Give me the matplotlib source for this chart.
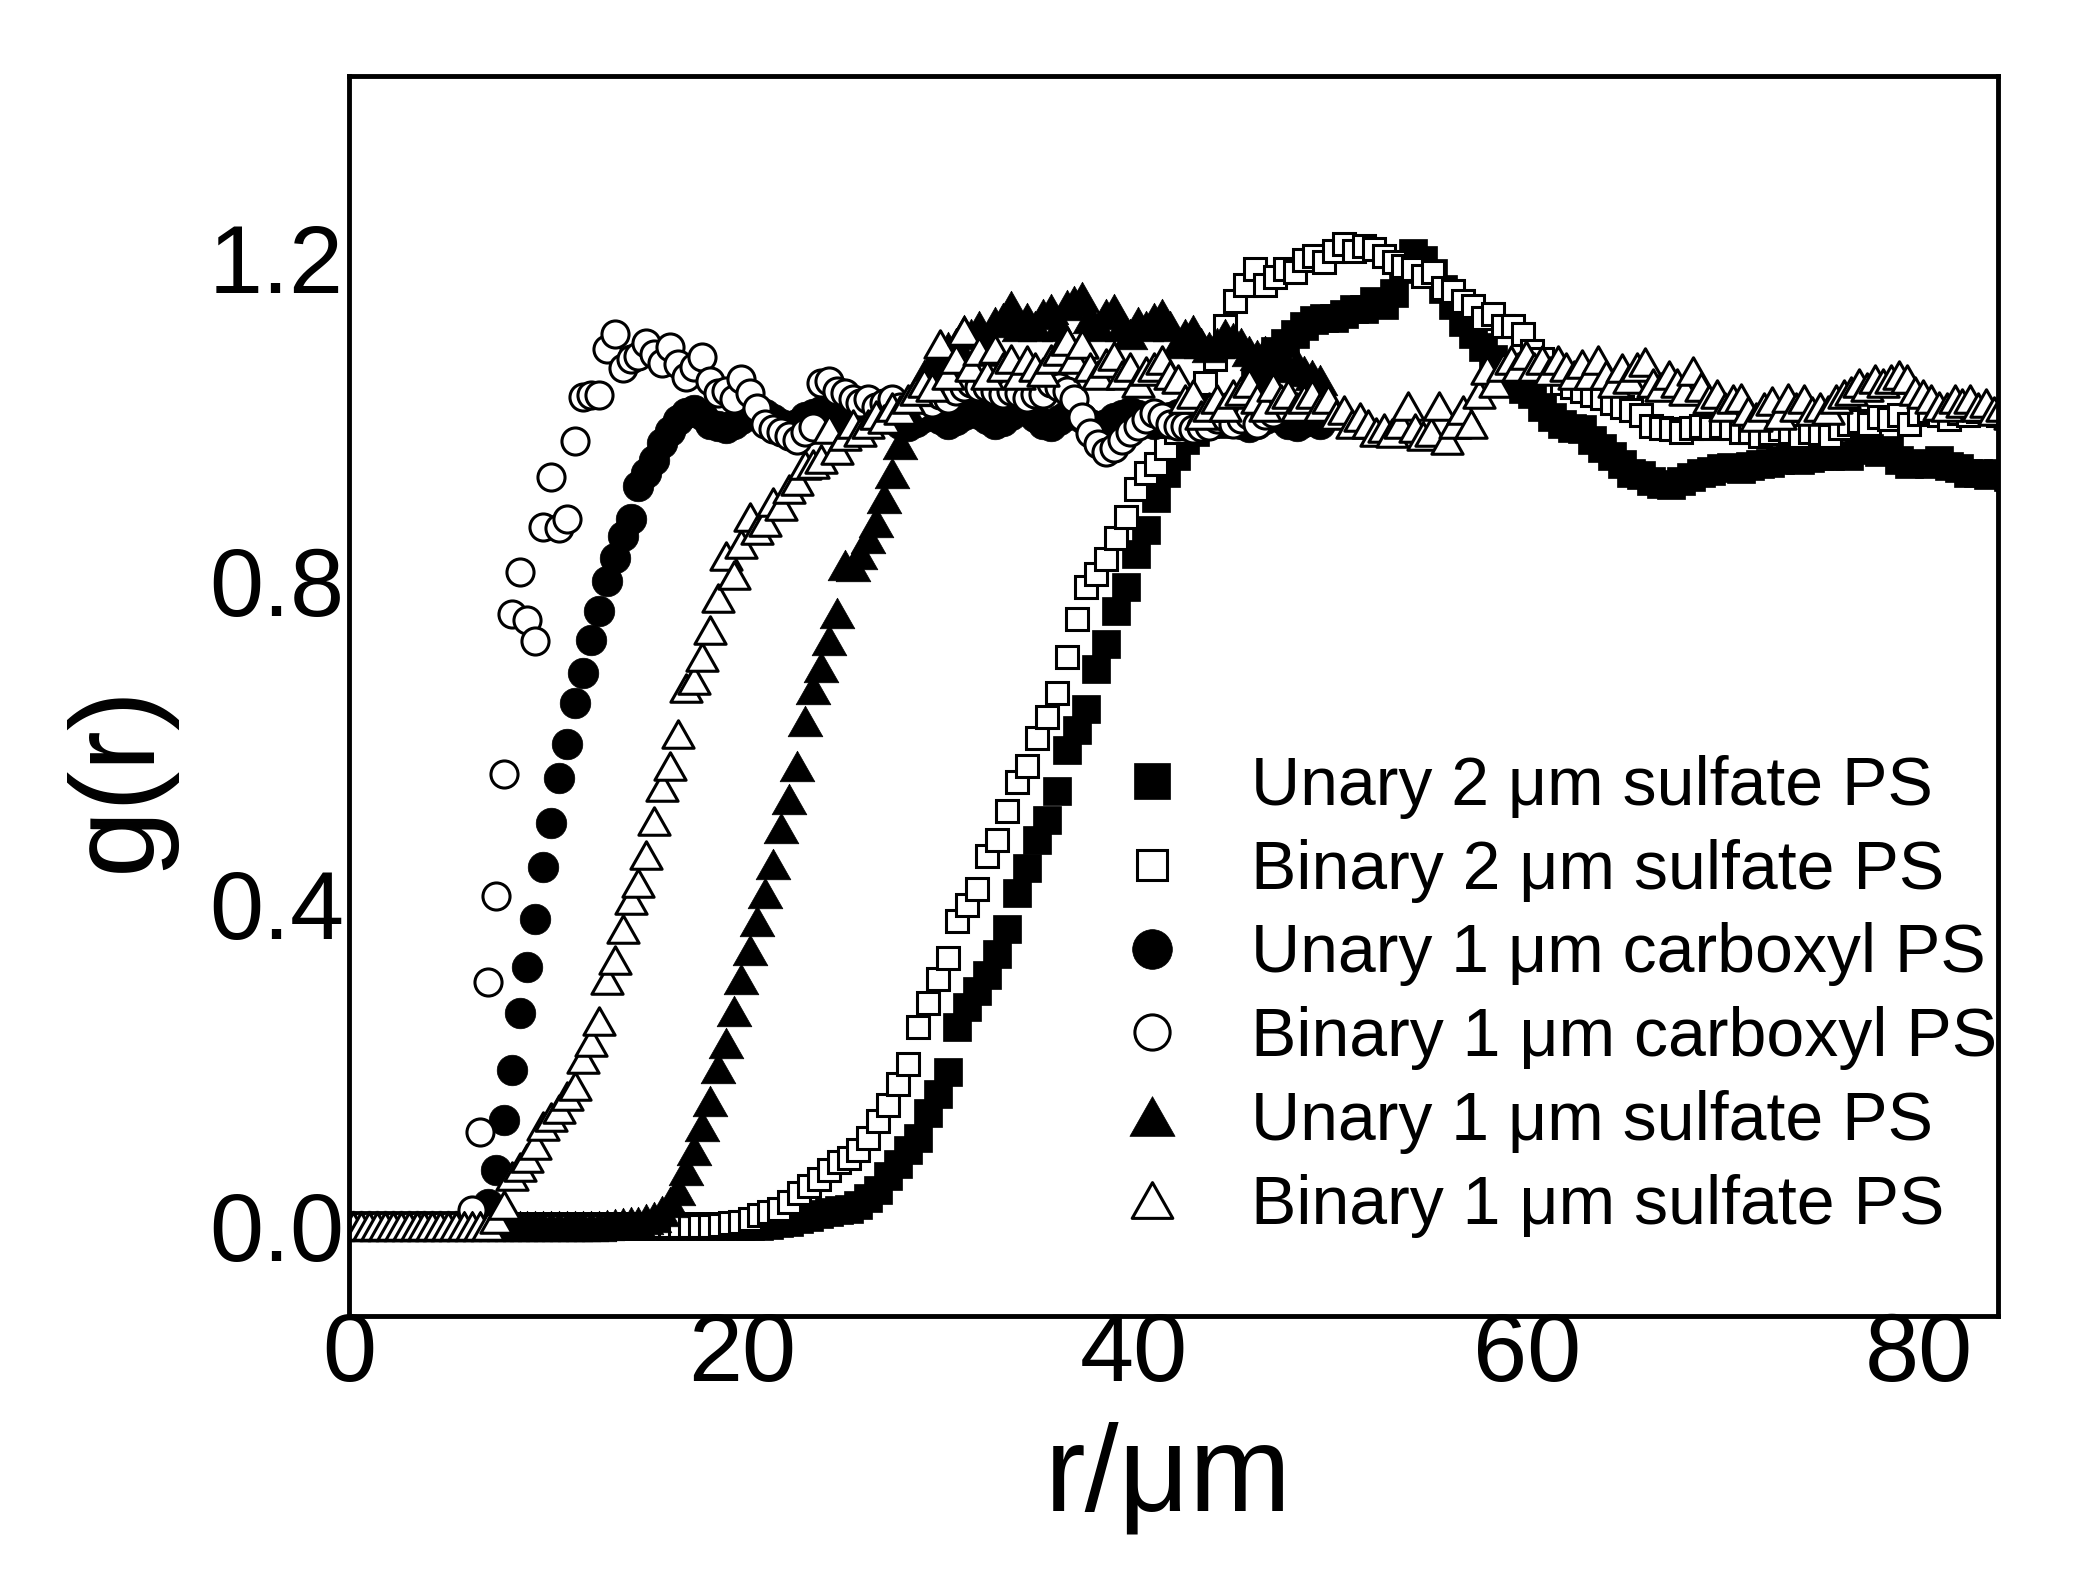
import numpy as np
import matplotlib
matplotlib.use("Agg")
import matplotlib.pyplot as plt
from matplotlib.path import Path

plt.rcParams['font.family'] = ['Liberation Sans', 'DejaVu Sans']

# ---------------- data ----------------
# radial positions of the 2 um particle data (um)
r_2um = [
    0.18, 0.69, 1.19, 1.70, 2.20, 2.71, 3.21, 3.72, 4.22, 4.73,
    5.23, 5.74, 6.24, 6.75, 7.25, 7.76, 8.26, 8.77, 9.28, 9.78,
    10.29, 10.79, 11.30, 11.80, 12.31, 12.81, 13.32, 13.82, 14.33, 14.83,
    15.34, 15.84, 16.35, 16.85, 17.36, 17.86, 18.37, 18.87, 19.38, 19.88,
    20.39, 20.89, 21.40, 21.90, 22.41, 22.91, 23.42, 23.92, 24.43, 24.93,
    25.44, 25.94, 26.45, 26.95, 27.46, 27.96, 28.47, 28.97, 29.48, 29.98,
    30.49, 30.99, 31.50, 32.00, 32.51, 33.02, 33.52, 34.03, 34.53, 35.04,
    35.54, 36.05, 36.55, 37.06, 37.56, 38.07, 38.57, 39.08, 39.58, 40.09,
    40.59, 41.10, 41.60, 42.11, 42.61, 43.12, 43.62, 44.13, 44.63, 45.14,
    45.64, 46.15, 46.65, 47.16, 47.66, 48.17, 48.67, 49.18, 49.68, 50.19,
    50.69, 51.20, 51.70, 52.21, 52.71, 53.22, 53.72, 54.23, 54.73, 55.24,
    55.74, 56.25, 56.75, 57.26, 57.76, 58.27, 58.78, 59.28, 59.79, 60.29,
    60.80, 61.30, 61.81, 62.31, 62.81, 63.32, 63.83, 64.33, 64.84, 65.34,
    65.85, 66.35, 66.86, 67.36, 67.86, 68.37, 68.88, 69.38, 69.89, 70.39,
    70.90, 71.40, 71.91, 72.41, 72.92, 73.42, 73.93, 74.43, 74.94, 75.44,
    75.95, 76.45, 76.96, 77.46, 77.97, 78.47, 78.98, 79.48, 79.99, 80.49,
    81.00, 81.50, 82.01, 82.51, 83.02, 83.52, 84.03, 84.53, 85.04,
]

# radial positions of the 1 um particle data (um)
r_1um = [
    0.18, 0.59, 0.99, 1.40, 1.80, 2.20, 2.61, 3.01, 3.42, 3.82,
    4.22, 4.63, 5.03, 5.44, 5.84, 6.24, 6.65, 7.05, 7.46, 7.86,
    8.26, 8.67, 9.07, 9.48, 9.88, 10.29, 10.69, 11.09, 11.50, 11.90,
    12.31, 12.71, 13.11, 13.52, 13.92, 14.33, 14.73, 15.13, 15.54, 15.94,
    16.35, 16.75, 17.15, 17.56, 17.96, 18.37, 18.77, 19.17, 19.58, 19.98,
    20.39, 20.79, 21.20, 21.60, 22.00, 22.41, 22.81, 23.22, 23.62, 24.02,
    24.43, 24.83, 25.24, 25.64, 26.04, 26.45, 26.85, 27.26, 27.66, 28.06,
    28.47, 28.87, 29.28, 29.68, 30.09, 30.49, 30.89, 31.30, 31.70, 32.11,
    32.51, 32.91, 33.32, 33.72, 34.13, 34.53, 34.93, 35.34, 35.74, 36.15,
    36.55, 36.95, 37.36, 37.76, 38.17, 38.57, 38.97, 39.38, 39.78, 40.19,
    40.59, 40.99, 41.40, 41.80, 42.21, 42.61, 43.01, 43.42, 43.82, 44.23,
    44.63, 45.04, 45.44, 45.84, 46.25, 46.65, 47.06, 47.46, 47.86, 48.27,
    48.67, 49.08, 49.48, 49.88, 50.29, 50.69, 51.10, 51.50, 51.90, 52.31,
    52.71, 53.12, 53.52, 53.93, 54.33, 54.73, 55.14, 55.54, 55.94, 56.35,
    56.75, 57.16, 57.56, 57.97, 58.37, 58.77, 59.18, 59.58, 59.99, 60.39,
    60.80, 61.20, 61.60, 62.01, 62.41, 62.81, 63.22, 63.62, 64.03, 64.43,
    64.84, 65.24, 65.64, 66.05, 66.45, 66.86, 67.26, 67.66, 68.07, 68.47,
    68.88, 69.28, 69.68, 70.09, 70.49, 70.90, 71.30, 71.70, 72.11, 72.51,
    72.92, 73.32, 73.73, 74.13, 74.53, 74.94, 75.34, 75.75, 76.15, 76.55,
    76.96, 77.36, 77.77, 78.17, 78.57, 78.98, 79.38, 79.79, 80.19, 80.59,
    81.00, 81.40, 81.81, 82.21, 82.61, 83.02, 83.42, 83.83, 84.23, 84.63,
    85.04,
]

# Unary 2 um sulfate PS (filled squares), on r_2um
g_unary_2um_sulfate = [
    0.0, 0.0, 0.0, 0.0, 0.0, 0.0, 0.0, 0.0, 0.0, 0.0,
    0.0, 0.0, 0.0, 0.0, 0.0, 0.0, 0.0, 0.0, 0.0, 0.0,
    0.0, 0.0, 0.0, 0.0, 0.0, 0.0, 0.0, 0.0, 0.0, 0.0,
    0.0, 0.0, 0.0, 0.0, 0.0, 0.0, 0.0, 0.0, 0.0, 0.0,
    0.0, 0.0, 0.002, 0.004, 0.006, 0.009, 0.012, 0.015, 0.018, 0.020,
    0.021, 0.026, 0.035, 0.045, 0.062, 0.077, 0.095, 0.110, 0.141, 0.164,
    0.191, 0.247, 0.272, 0.292, 0.312, 0.338, 0.368, 0.413, 0.444, 0.479,
    0.504, 0.540, 0.590, 0.615, 0.641, 0.691, 0.722, 0.762, 0.792, 0.833,
    0.863, 0.903, 0.934, 0.954, 0.974, 0.984, 0.994, 0.994, 1.005, 1.015,
    1.025, 1.045, 1.065, 1.085, 1.095, 1.106, 1.116, 1.123, 1.126, 1.126,
    1.131, 1.136, 1.136, 1.146, 1.141, 1.156, 1.186, 1.206, 1.197, 1.181,
    1.161, 1.141, 1.121, 1.106, 1.090, 1.075, 1.060, 1.045, 1.038, 1.031,
    1.015, 1.003, 0.994, 0.989, 0.988, 0.974, 0.964, 0.954, 0.944, 0.934,
    0.931, 0.924, 0.920, 0.919, 0.924, 0.929, 0.934, 0.936, 0.939, 0.941,
    0.938, 0.942, 0.944, 0.946, 0.949, 0.954, 0.949, 0.952, 0.955, 0.954,
    0.956, 0.955, 0.962, 0.964, 0.959, 0.962, 0.949, 0.944, 0.946, 0.944,
    0.949, 0.942, 0.939, 0.934, 0.934, 0.931, 0.934, 0.929, 0.932,
]

# Binary 2 um sulfate PS (open squares), on r_2um
g_binary_2um_sulfate = [
    0.0, 0.0, 0.0, 0.0, 0.0, 0.0, 0.0, 0.0, 0.0, 0.0,
    0.0, 0.0, 0.0, 0.0, 0.0, 0.0, 0.0, 0.0, 0.0, 0.0,
    0.0, 0.0, 0.0, 0.0, 0.0, 0.0, 0.0, 0.0, 0.0, 0.0,
    0.0, 0.0, 0.0, 0.0, 0.0, 0.0, 0.0, 0.002, 0.004, 0.006,
    0.009, 0.014, 0.018, 0.022, 0.030, 0.042, 0.050, 0.059, 0.070, 0.080,
    0.085, 0.095, 0.110, 0.131, 0.151, 0.176, 0.201, 0.247, 0.277, 0.307,
    0.333, 0.378, 0.398, 0.418, 0.459, 0.479, 0.515, 0.550, 0.570, 0.605,
    0.631, 0.661, 0.706, 0.752, 0.792, 0.808, 0.827, 0.853, 0.879, 0.914,
    0.934, 0.944, 0.964, 0.984, 0.994, 1.015, 1.045, 1.075, 1.116, 1.146,
    1.166, 1.186, 1.166, 1.176, 1.186, 1.182, 1.197, 1.202, 1.195, 1.209,
    1.217, 1.209, 1.215, 1.211, 1.202, 1.195, 1.190, 1.186, 1.177, 1.182,
    1.163, 1.159, 1.146, 1.140, 1.126, 1.130, 1.116, 1.116, 1.106, 1.085,
    1.075, 1.060, 1.045, 1.040, 1.035, 1.030, 1.026, 1.020, 1.015, 1.012,
    1.005, 0.992, 0.989, 0.988, 0.984, 0.989, 0.992, 0.989, 0.992, 0.989,
    0.984, 0.984, 0.979, 0.983, 0.988, 0.984, 0.979, 0.984, 0.983, 0.979,
    0.989, 0.994, 0.998, 0.994, 1.003, 1.000, 1.005, 0.994, 1.007, 1.010,
    1.005, 1.000, 1.008, 1.005, 1.010, 1.012, 1.005, 1.010, 1.005,
]

# Unary 1 um carboxyl PS (filled circles), on r_1um
g_unary_1um_carboxyl = [
    0.0, 0.0, 0.0, 0.0, 0.0, 0.0, 0.0, 0.0, 0.0, 0.0,
    0.0, 0.0, 0.0, 0.0, 0.0, 0.0, 0.004, 0.028, 0.070, 0.132,
    0.194, 0.264, 0.322, 0.381, 0.445, 0.500, 0.555, 0.598, 0.649, 0.686,
    0.727, 0.763, 0.800, 0.828, 0.855, 0.877, 0.917, 0.933, 0.949, 0.970,
    0.986, 0.999, 1.008, 1.012, 1.005, 0.994, 0.992, 0.989, 0.994, 1.000,
    1.005, 1.010, 1.007, 1.000, 0.994, 0.992, 0.994, 1.003, 1.007, 1.010,
    1.005, 1.000, 0.994, 0.989, 0.994, 1.000, 1.005, 1.007, 1.003, 0.994,
    0.992, 0.997, 1.003, 1.005, 1.000, 0.994, 0.999, 1.005, 1.010, 1.007,
    1.000, 0.994, 0.998, 1.005, 1.012, 1.010, 1.003, 0.994, 0.992, 0.999,
    1.005, 1.007, 1.001, 0.994, 0.990, 0.994, 1.001, 1.005, 1.009, 1.005,
    0.999, 0.994, 0.997, 1.003, 1.007, 1.005, 0.999, 0.992, 0.994, 1.001,
    1.005, 1.003, 0.994, 0.990, 0.994, 1.000, 1.005, 1.001, 0.994, 0.992,
    0.997, 1.003, 0.994,
]

# Binary 1 um carboxyl PS (open circles), on r_1um
g_binary_1um_carboxyl = [
    0.0, 0.0, 0.0, 0.0, 0.0, 0.0, 0.0, 0.0, 0.0, 0.0,
    0.0, 0.0, 0.0, 0.0, 0.0, 0.020, 0.117, 0.303, 0.409, 0.561,
    0.759, 0.811, 0.751, 0.725, 0.867, 0.928, 0.865, 0.877, 0.973, 1.028,
    1.030, 1.030, 1.087, 1.105, 1.063, 1.075, 1.078, 1.094, 1.081, 1.070,
    1.089, 1.069, 1.052, 1.065, 1.077, 1.048, 1.032, 1.035, 1.025, 1.050,
    1.032, 1.014, 0.994, 0.988, 0.984, 0.979, 0.974, 0.984, 0.990, 1.045,
    1.048, 1.035, 1.032, 1.025, 1.020, 1.025, 1.015, 1.020, 1.025, 1.015,
    1.010, 1.015, 1.025, 1.020, 1.030, 1.025, 1.035, 1.040, 1.045, 1.040,
    1.040, 1.035, 1.031, 1.035, 1.033, 1.026, 1.031, 1.031, 1.045, 1.040,
    1.035, 1.025, 1.003, 0.983, 0.969, 0.959, 0.964, 0.974, 0.984, 0.992,
    1.000, 1.008, 1.003, 0.994, 0.992, 0.992, 0.988, 0.990, 0.992, 1.000,
    1.003, 0.994, 1.000, 1.005, 0.994, 1.005, 1.008,
]

# Unary 1 um sulfate PS (filled triangles), on r_1um
g_unary_1um_sulfate = [
    0.0, 0.0, 0.0, 0.0, 0.0, 0.0, 0.0, 0.0, 0.0, 0.0,
    0.0, 0.0, 0.0, 0.0, 0.0, 0.0, 0.0, 0.0, 0.0, 0.0,
    0.0, 0.0, 0.0, 0.0, 0.0, 0.0, 0.0, 0.0, 0.001, 0.001,
    0.001, 0.001, 0.002, 0.003, 0.004, 0.005, 0.006, 0.009, 0.012, 0.019,
    0.030, 0.045, 0.070, 0.095, 0.125, 0.156, 0.196, 0.227, 0.267, 0.307,
    0.343, 0.378, 0.413, 0.449, 0.494, 0.530, 0.570, 0.626, 0.666, 0.693,
    0.727, 0.760, 0.820, 0.818, 0.833, 0.853, 0.873, 0.902, 0.934, 0.969,
    1.012, 1.035, 1.055, 1.070, 1.085, 1.090, 1.095, 1.111, 1.106, 1.116,
    1.095, 1.121, 1.126, 1.140, 1.116, 1.126, 1.116, 1.131, 1.136, 1.116,
    1.141, 1.146, 1.151, 1.126, 1.116, 1.131, 1.136, 1.116, 1.106, 1.121,
    1.116, 1.126, 1.131, 1.116, 1.095, 1.106, 1.111, 1.095, 1.090, 1.095,
    1.106, 1.101, 1.095, 1.085, 1.080, 1.085, 1.075, 1.070, 1.065, 1.068,
    1.060, 1.055, 1.049,
]

# Binary 1 um sulfate PS (open triangles), on r_1um
g_binary_1um_sulfate = [
    0.0, 0.0, 0.0, 0.0, 0.0, 0.0, 0.0, 0.0, 0.0, 0.0,
    0.0, 0.0, 0.0, 0.0, 0.0, 0.0, 0.0, 0.0, 0.009, 0.027,
    0.062, 0.074, 0.085, 0.101, 0.125, 0.136, 0.146, 0.161, 0.174, 0.208,
    0.228, 0.255, 0.305, 0.330, 0.368, 0.404, 0.425, 0.460, 0.502, 0.545,
    0.571, 0.610, 0.667, 0.677, 0.705, 0.739, 0.778, 0.830, 0.807, 0.846,
    0.879, 0.863, 0.873, 0.898, 0.892, 0.914, 0.924, 0.943, 0.944, 0.951,
    0.988, 0.962, 0.979, 0.994, 0.984, 0.994, 1.005, 1.000, 1.015, 1.012,
    1.025, 1.035, 1.045, 1.040, 1.093, 1.055, 1.075, 1.109, 1.065, 1.085,
    1.055, 1.087, 1.065, 1.075, 1.055, 1.073, 1.065, 1.059, 1.075, 1.085,
    1.097, 1.075, 1.093, 1.065, 1.055, 1.070, 1.078, 1.055, 1.065, 1.045,
    1.060, 1.065, 1.073, 1.055, 1.050, 1.025, 1.031, 1.005, 1.015, 1.025,
    1.015, 1.031, 1.035, 1.045, 1.025, 1.015, 1.040, 1.025, 1.031, 1.015,
    1.025, 1.031, 1.015, 1.025, 1.005, 1.012, 0.994, 1.003, 0.994, 0.984,
    0.989, 0.983, 0.994, 1.017, 0.989, 0.979, 0.984, 1.017, 0.974, 0.994,
    1.012, 0.994, 1.031, 1.061, 1.045, 1.065, 1.073, 1.065, 1.080, 1.065,
    1.073, 1.060, 1.073, 1.065, 1.055, 1.068, 1.055, 1.073, 1.055, 1.045,
    1.064, 1.050, 1.065, 1.071, 1.045, 1.040, 1.055, 1.045, 1.035, 1.060,
    1.040, 1.025, 1.031, 1.015, 1.025, 1.026, 1.010, 1.003, 1.015, 1.022,
    1.005, 1.026, 1.015, 1.025, 1.010, 1.015, 1.012, 1.025, 1.031, 1.035,
    1.045, 1.040, 1.050, 1.045, 1.050, 1.055, 1.050, 1.035, 1.031, 1.025,
    1.017, 1.015, 1.025, 1.020, 1.025, 1.015, 1.020, 1.010, 1.015, 1.005,
    1.015,
]

labels = [
    "Unary 2 \u03bcm sulfate PS",
    "Binary 2 \u03bcm sulfate PS",
    "Unary 1 \u03bcm carboxyl PS",
    "Binary 1 \u03bcm carboxyl PS",
    "Unary 1 \u03bcm sulfate PS",
    "Binary 1 \u03bcm sulfate PS",
]
x_ticks = [0, 20, 40, 60, 80]
y_ticks = [0.0, 0.4, 0.8, 1.2]
y_tick_labels = ["0.0", "0.4", "0.8", "1.2"]

# ---------------- figure ----------------
fig = plt.figure(figsize=(20.95, 15.71), dpi=100)
ax = fig.add_axes([0.1668, 0.1623, 0.7867, 0.7892])

# slightly flattened triangle marker (wider than tall, as in the original)
tri = Path([(0, 0.88), (-1, -0.88), (1, -0.88), (0, 0.88)],
           [Path.MOVETO, Path.LINETO, Path.LINETO, Path.CLOSEPOLY])

k = 'black'
ax.plot(r_2um[:len(g_unary_2um_sulfate)], g_unary_2um_sulfate, ls='none',
        marker='s', ms=19.5, mfc=k, mec=k, mew=0.5, label=labels[0])
ax.plot(r_2um[:len(g_binary_2um_sulfate)], g_binary_2um_sulfate, ls='none',
        marker='s', ms=16.5, mfc='white', mec=k, mew=2.2, label=labels[1])
ax.plot(r_1um[:len(g_unary_1um_carboxyl)], g_unary_1um_carboxyl, ls='none',
        marker='o', ms=22, mfc=k, mec=k, mew=0.5, label=labels[2])
ax.plot(r_1um[:len(g_binary_1um_carboxyl)], g_binary_1um_carboxyl, ls='none',
        marker='o', ms=19.5, mfc='white', mec=k, mew=2.2, label=labels[3])
ax.plot(r_1um[:len(g_unary_1um_sulfate)], g_unary_1um_sulfate, ls='none',
        marker=tri, ms=25, mfc=k, mec=k, mew=0.5, label=labels[4])
ax.plot(r_1um[:len(g_binary_1um_sulfate)], g_binary_1um_sulfate, ls='none',
        marker=tri, ms=22.5, mfc='white', mec=k, mew=2.2, label=labels[5])

ax.set_xlim(0, 84)
ax.set_ylim(-0.111, 1.425)
ax.set_xticks(x_ticks)
ax.set_xticklabels([str(v) for v in x_ticks])
ax.set_yticks(y_ticks)
ax.set_yticklabels(y_tick_labels)
ax.tick_params(axis='both', length=0, labelsize=70)
ax.tick_params(axis='x', pad=-3.5)
ax.tick_params(axis='y', pad=4)
for s in ax.spines.values():
    s.set_linewidth(3.5)

ax.set_xlabel("r/\u03bcm", fontsize=88)
ax.xaxis.label.set_va('baseline')
ax.xaxis.set_label_coords(0.497, -0.1565)
ax.set_ylabel("g(r)", fontsize=87)
ax.yaxis.label.set_va('baseline')
ax.yaxis.set_label_coords(-0.121, 0.434)

leg = ax.legend(loc='upper left', bbox_to_anchor=(0.5337, 0.5195),
                bbox_transform=fig.transFigure, frameon=False, fontsize=49,
                markerscale=1.3, handlelength=1.0, handletextpad=0.95,
                labelspacing=0.29, borderpad=0, borderaxespad=0)

fig.savefig("out.png", dpi=100)
